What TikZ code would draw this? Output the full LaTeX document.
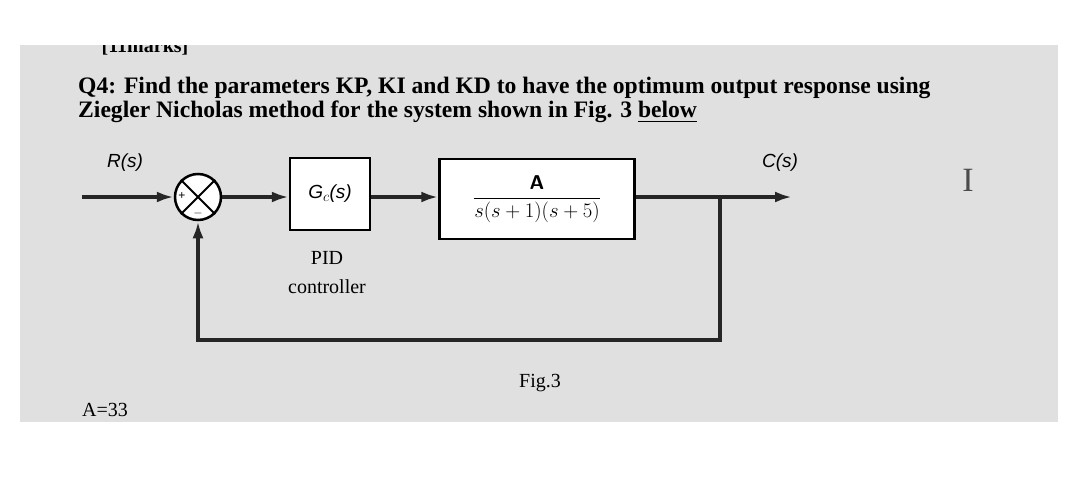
\documentclass[tikz,border=0pt]{standalone}
\usepackage{amsmath}
\usepackage{fontspec}
\setmainfont{Liberation Serif}
\newfontfamily\sansf{Liberation Sans}
\usetikzlibrary{arrows.meta}
\begin{document}
\begin{tikzpicture}[x=1pt,y=-1pt,
  blk/.style={draw=black,line width=2.5pt,fill=white,inner sep=0pt},
  wire/.style={line width=3.5pt,draw=black!85},
  arr/.style={wire,-{Latex[length=17pt,width=11pt]}},
  txt/.style={inner sep=0pt,font=\fontsize{22}{24}\selectfont}]
\useasboundingbox (0,0) rectangle (1080,490);
\fill[white] (0,0) rectangle (1080,490);
\fill[black!12] (20,45) rectangle (1058,422);
\begin{scope}
\clip (20,45) rectangle (1058,422);
\node[txt,anchor=center,font=\bfseries\fontsize{20}{22}\selectfont] (mk) at (145,47) {[11marks]};
\end{scope}
\node[txt,anchor=west,font=\bfseries\fontsize{23.6}{25}\selectfont] (q1) at (78,88) {Q4: Find the parameters KP, KI and KD to have the optimum output response using};
\node[txt,anchor=west,font=\bfseries\fontsize{23.6}{25}\selectfont] (q2) at (78,112) {Ziegler Nicholas method for the system shown in Fig. 3 \underline{below}};
\node[txt,font=\sansf\itshape\fontsize{19}{21}\selectfont] (r) at (125,163) {R(s)};
\node[txt,font=\sansf\itshape\fontsize{19}{21}\selectfont] (c) at (780,163) {C(s)};
\node[draw=black,line width=2.5pt,circle,minimum size=46pt,inner sep=0pt,fill=white] (s) at (198,197) {};
\draw[line width=2pt] (s.north west) -- (s.south east) (s.north east) -- (s.south west);
\node[font=\sansf\fontsize{12}{12}\selectfont] at (182,196) {+};
\node[font=\sansf\fontsize{12}{12}\selectfont] at (198,213) {$-$};
\coordinate (in) at (82,197);
\node[blk,minimum width=80pt,minimum height=72pt] (g) at (330,194) {\sansf\itshape\fontsize{19}{21}\selectfont G$_c$(s)};
\node[blk,minimum width=195pt,minimum height=80pt] (p) at (537,199) {\fontsize{20}{22}\selectfont$\dfrac{\textsf{\bfseries A}}{s(s+1)(s+5)}$};
\coordinate (out) at (792,197);
\coordinate (br) at (720,197);
\coordinate (b1) at (720,340);
\coordinate (b2) at (198,340);
\draw[arr] (in) -- (s.west);
\draw[arr] (s.east) -- (g.west |- s.east);
\draw[arr] (g.east |- s.east) -- (p.west |- s.east);
\draw[arr] (p.east |- out) -- (out);
\draw[arr] (br) -- (b1) -- (b2) -- (s.south);
\node[txt,font=\fontsize{20}{22}\selectfont] (pid) at (327,258) {PID};
\node[txt,font=\fontsize{20}{22}\selectfont] (ctl) at (327,287) {controller};
\node[txt,font=\fontsize{20}{22}\selectfont] (f) at (540,383) {Fig.3};
\node[txt,font=\fontsize{20}{22}\selectfont] (a) at (105,410) {A=33};
\node[txt,font=\fontsize{34}{34}\selectfont,text=black!70] (cur) at (968,180) {I};
\end{tikzpicture}
\end{document}
